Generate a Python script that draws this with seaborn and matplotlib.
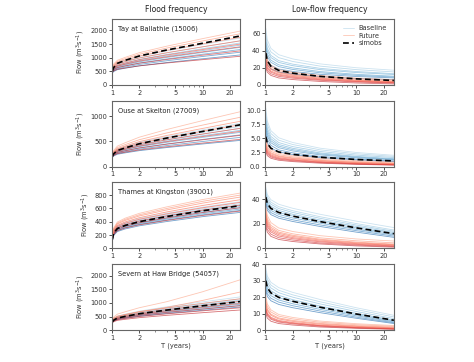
import matplotlib
matplotlib.use("Agg")
import matplotlib.pyplot as plt
import matplotlib.ticker as mticker
import seaborn as sns

# Return periods (years) at which each frequency curve is read
return_period = [1.01, 1.05, 1.15, 1.4, 2, 4, 10, 26]

# ---- Tay at Ballathie (15006) ----
tay_flood_base = [
    [430, 490, 557, 611, 698, 819, 959, 1100],
    [450, 518, 593, 653, 750, 885, 1043, 1200],
    [470, 545, 628, 694, 802, 951, 1126, 1300],
    [490, 570, 659, 730, 846, 1006, 1193, 1380],
    [510, 596, 691, 767, 890, 1061, 1261, 1460],
    [530, 621, 722, 803, 934, 1116, 1328, 1540],
    [560, 655, 761, 846, 984, 1175, 1397, 1620],
    [590, 692, 805, 895, 1042, 1245, 1483, 1720],
]
tay_flood_future = [
    [460, 513, 572, 619, 696, 802, 926, 1050],
    [490, 558, 634, 695, 794, 931, 1090, 1250],
    [520, 599, 687, 758, 872, 1030, 1215, 1400],
    [540, 626, 722, 799, 924, 1097, 1298, 1500],
    [570, 665, 770, 854, 990, 1179, 1400, 1620],
    [600, 704, 819, 911, 1060, 1267, 1509, 1750],
    [620, 733, 859, 960, 1124, 1351, 1615, 1880],
    [650, 770, 903, 1009, 1182, 1421, 1701, 1980],
]
tay_flood_simobs = [500, 640, 790, 900, 1060, 1280, 1530, 1800]

tay_low_base = [
    [30, 23.3, 18.5, 14.9, 12.5, 9.6, 7.4, 6],
    [36, 28.2, 22.6, 18.4, 15.6, 12.2, 9.7, 8],
    [42, 32.8, 26.2, 21.2, 17.9, 14.0, 11.0, 9],
    [46, 35.9, 28.7, 23.3, 19.7, 15.4, 12.2, 10],
    [50, 39.4, 31.8, 26.1, 22.3, 17.7, 14.3, 12],
    [54, 42.5, 34.3, 28.2, 24.1, 19.2, 15.5, 13],
    [60, 47.4, 38.4, 31.7, 27.2, 21.8, 17.7, 15],
    [66, 52.3, 42.5, 35.1, 30.2, 24.4, 19.9, 17],
]
tay_low_future = [
    [20, 14.7, 10.9, 8.0, 6.1, 3.9, 2.1, 1],
    [23, 17.1, 12.9, 9.8, 7.7, 5.2, 3.3, 2],
    [26, 19.4, 14.7, 11.2, 8.8, 6.0, 3.9, 2.5],
    [28, 21.0, 16.0, 12.3, 9.8, 6.8, 4.5, 3],
    [31, 23.3, 17.8, 13.7, 10.9, 7.6, 5.2, 3.5],
    [33, 24.9, 19.1, 14.7, 11.8, 8.4, 5.7, 4],
    [36, 27.3, 21.1, 16.5, 13.4, 9.7, 6.9, 5],
    [38, 29.0, 22.6, 17.8, 14.6, 10.8, 7.9, 6],
]
tay_low_simobs = [37, 28.0, 21.6, 16.8, 13.6, 9.8, 6.9, 5]

# ---- Ouse at Skelton (27009) ----
ouse_flood_base = [
    [180, 211, 245, 272, 316, 377, 449, 520],
    [190, 225, 264, 295, 346, 416, 498, 580],
    [200, 239, 282, 316, 372, 449, 540, 630],
    [205, 248, 295, 333, 395, 481, 580, 680],
    [210, 256, 307, 348, 414, 506, 613, 720],
    [215, 264, 319, 362, 433, 531, 646, 760],
    [220, 272, 330, 377, 452, 556, 678, 800],
    [230, 287, 350, 400, 482, 595, 728, 860],
]
ouse_flood_future = [
    [190, 222, 257, 285, 330, 393, 467, 540],
    [200, 238, 280, 313, 368, 444, 532, 620],
    [210, 254, 303, 342, 406, 494, 597, 700],
    [215, 264, 319, 362, 433, 531, 646, 760],
    [220, 275, 336, 385, 464, 574, 702, 830],
    [225, 286, 353, 407, 495, 617, 758, 900],
    [235, 302, 377, 436, 533, 667, 824, 980],
    [245, 321, 406, 473, 583, 735, 913, 1090],
]
ouse_flood_simobs = [200, 257, 320, 370, 452, 565, 698, 830]

ouse_low_base = [
    [5.5, 4.21, 3.29, 2.60, 2.14, 1.59, 1.18, 0.9],
    [6.3, 4.82, 3.76, 2.96, 2.43, 1.80, 1.32, 1.0],
    [7.0, 5.38, 4.22, 3.35, 2.77, 2.07, 1.55, 1.2],
    [7.6, 5.84, 4.58, 3.63, 3.00, 2.25, 1.68, 1.3],
    [8.2, 6.30, 4.94, 3.92, 3.24, 2.42, 1.81, 1.4],
    [8.8, 6.78, 5.34, 4.26, 3.54, 2.68, 2.03, 1.6],
    [9.6, 7.42, 5.86, 4.69, 3.91, 2.97, 2.27, 1.8],
    [10.4, 8.05, 6.37, 5.11, 4.27, 3.26, 2.50, 2.0],
]
ouse_low_future = [
    [2.6, 1.94, 1.47, 1.12, 0.88, 0.60, 0.39, 0.25],
    [3.0, 2.24, 1.70, 1.30, 1.03, 0.71, 0.46, 0.30],
    [3.3, 2.47, 1.88, 1.44, 1.15, 0.79, 0.53, 0.35],
    [3.6, 2.70, 2.06, 1.58, 1.26, 0.88, 0.59, 0.40],
    [3.9, 2.95, 2.27, 1.76, 1.42, 1.01, 0.70, 0.50],
    [4.2, 3.18, 2.45, 1.90, 1.54, 1.10, 0.77, 0.55],
    [4.6, 3.49, 2.70, 2.11, 1.72, 1.24, 0.89, 0.65],
    [5.0, 3.82, 2.98, 2.35, 1.93, 1.43, 1.05, 0.80],
]
ouse_low_simobs = [5.3, 4.10, 3.24, 2.59, 2.16, 1.65, 1.26, 1.0]

# ---- Thames at Kingston (39001) ----
thames_flood_base = [
    [110, 196, 252, 291, 338, 402, 476, 540],
    [120, 210, 269, 309, 359, 426, 503, 570],
    [125, 218, 278, 320, 371, 441, 520, 590],
    [130, 226, 288, 332, 384, 456, 538, 610],
    [140, 238, 302, 346, 400, 473, 557, 630],
    [145, 246, 312, 357, 413, 488, 574, 650],
    [150, 254, 322, 368, 426, 504, 592, 670],
    [160, 268, 338, 387, 446, 527, 619, 700],
]
thames_flood_future = [
    [120, 208, 265, 305, 353, 419, 494, 560],
    [130, 226, 288, 332, 384, 456, 538, 610],
    [140, 242, 308, 354, 410, 487, 574, 650],
    [150, 258, 328, 377, 436, 517, 609, 690],
    [155, 270, 345, 397, 460, 546, 644, 730],
    [165, 286, 365, 419, 486, 576, 679, 770],
    [170, 296, 378, 435, 504, 598, 706, 800],
    [180, 310, 395, 453, 525, 622, 733, 830],
]
thames_flood_simobs = [130, 232, 298, 344, 400, 477, 564, 640]

thames_low_base = [
    [36, 31.1, 27.6, 24.7, 22.0, 17.9, 13.3, 9],
    [38, 33.0, 29.3, 26.2, 23.4, 19.2, 14.5, 10],
    [40, 34.8, 31.0, 27.8, 24.9, 20.6, 15.6, 11],
    [42, 36.6, 32.7, 29.4, 26.4, 21.9, 16.8, 12],
    [44, 38.4, 34.4, 31.0, 27.9, 23.2, 18.0, 13],
    [46, 40.2, 36.1, 32.6, 29.4, 24.6, 19.1, 14],
    [48, 42.1, 37.8, 34.1, 30.8, 25.9, 20.3, 15],
    [50, 44.1, 39.8, 36.1, 32.8, 27.9, 22.3, 17],
]
thames_low_future = [
    [18, 13.2, 9.8, 7.3, 5.6, 3.6, 2.0, 1],
    [21, 15.5, 11.6, 8.7, 6.8, 4.4, 2.7, 1.5],
    [24, 17.8, 13.4, 10.1, 7.9, 5.3, 3.3, 2],
    [26, 19.4, 14.7, 11.2, 8.8, 6.0, 3.9, 2.5],
    [28, 21.0, 16.0, 12.3, 9.8, 6.8, 4.5, 3],
    [30, 22.6, 17.3, 13.3, 10.7, 7.5, 5.1, 3.5],
    [32, 24.3, 18.8, 14.7, 11.9, 8.6, 6.2, 4.5],
    [35, 26.9, 21.1, 16.7, 13.8, 10.4, 7.7, 6],
]
thames_low_simobs = [42, 36.6, 32.7, 29.4, 26.4, 21.9, 16.8, 12]

# ---- Severn at Haw Bridge (54057) ----
severn_flood_base = [
    [280, 331, 388, 434, 508, 611, 730, 850],
    [290, 345, 406, 455, 534, 644, 772, 900],
    [300, 359, 424, 476, 560, 677, 814, 950],
    [310, 372, 441, 496, 586, 710, 855, 1000],
    [320, 386, 459, 517, 612, 743, 897, 1050],
    [330, 399, 476, 538, 638, 777, 938, 1100],
    [340, 413, 494, 559, 664, 810, 980, 1150],
    [350, 428, 515, 585, 698, 855, 1037, 1220],
]
severn_flood_future = [
    [270, 312, 359, 397, 458, 543, 641, 740],
    [290, 338, 391, 433, 502, 597, 709, 820],
    [310, 363, 422, 469, 546, 652, 776, 900],
    [320, 379, 445, 498, 584, 703, 841, 980],
    [330, 396, 469, 527, 622, 753, 907, 1060],
    [350, 422, 502, 566, 670, 814, 982, 1150],
    [370, 442, 514, 576, 679, 834, 1091, 1400],
    [380, 483, 586, 674, 821, 1042, 1409, 1850],
]
severn_flood_simobs = [300, 368, 443, 503, 600, 735, 893, 1050]

severn_low_base = [
    [24, 20.4, 17.8, 15.6, 13.6, 10.6, 7.2, 4],
    [26, 22.1, 19.3, 17.0, 14.8, 11.6, 7.9, 4.5],
    [28, 23.9, 20.9, 18.3, 16.0, 12.6, 8.7, 5],
    [30, 25.6, 22.4, 19.7, 17.3, 13.6, 9.4, 5.5],
    [32, 27.3, 23.9, 21.1, 18.5, 14.6, 10.2, 6],
    [34, 29.1, 25.6, 22.7, 20.0, 15.9, 11.3, 7],
    [36, 31.0, 27.3, 24.2, 21.4, 17.2, 12.5, 8],
    [38, 32.8, 29.0, 25.8, 22.9, 18.6, 13.6, 9],
]
severn_low_future = [
    [10, 7.3, 5.4, 4.0, 3.1, 1.9, 1.1, 0.5],
    [12, 8.8, 6.6, 4.9, 3.8, 2.4, 1.4, 0.7],
    [13, 9.6, 7.2, 5.4, 4.2, 2.7, 1.6, 0.9],
    [14, 10.4, 7.8, 5.9, 4.6, 3.0, 1.9, 1.1],
    [16, 11.9, 9.0, 6.8, 5.3, 3.6, 2.3, 1.4],
    [17, 12.7, 9.7, 7.4, 5.9, 4.1, 2.7, 1.8],
    [19, 14.3, 11.0, 8.5, 6.8, 4.8, 3.3, 2.3],
    [21, 15.9, 12.3, 9.5, 7.7, 5.5, 3.9, 2.8],
]
severn_low_simobs = [30, 25.7, 22.6, 19.9, 17.5, 13.9, 9.8, 6]

station_names = ["Tay at Ballathie (15006)", "Ouse at Skelton (27009)",
                 "Thames at Kingston (39001)", "Severn at Haw Bridge (54057)"]

flood_sets = [
    (tay_flood_base, tay_flood_future, tay_flood_simobs),
    (ouse_flood_base, ouse_flood_future, ouse_flood_simobs),
    (thames_flood_base, thames_flood_future, thames_flood_simobs),
    (severn_flood_base, severn_flood_future, severn_flood_simobs),
]
low_sets = [
    (tay_low_base, tay_low_future, tay_low_simobs),
    (ouse_low_base, ouse_low_future, ouse_low_simobs),
    (thames_low_base, thames_low_future, thames_low_simobs),
    (severn_low_base, severn_low_future, severn_low_simobs),
]

flood_ylim = [2430, 1310, 990, 2420]
flood_yticks = [[0, 500, 1000, 1500, 2000], [0, 500, 1000],
                [0, 200, 400, 600, 800], [0, 500, 1000, 1500, 2000]]
low_ylim = [77, 11.7, 54, 40]
low_yticks = [[0, 20, 40, 60], [0.0, 2.5, 5.0, 7.5, 10.0],
              [0, 20, 40], [0, 10, 20, 30, 40]]

sns.set_style("ticks")
plt.rcParams['font.family'] = ['DejaVu Sans']

fig, axes = plt.subplots(4, 2, figsize=(4.74, 3.62), dpi=100)
fig.subplots_adjust(left=0.236, right=0.831, top=0.948, bottom=0.088,
                    wspace=0.195, hspace=0.24)

# lightest first; darkest shades go to the low members
blues = sns.color_palette("Blues", 14)[4:12]
reds = sns.color_palette("Reds", 14)[4:12]

FS = 4.8
TXT = "#333333"


def draw_panel(ax, base, future, simobs, legend=False):
    n = len(base)
    for i, vals in enumerate(base):
        sns.lineplot(x=return_period, y=vals, ax=ax, color=blues[n - 1 - i],
                     lw=0.6, alpha=0.6,
                     label="Baseline" if (legend and i == n - 1) else None)
    for i, vals in enumerate(future):
        sns.lineplot(x=return_period, y=vals, ax=ax, color=reds[n - 1 - i],
                     lw=0.6, alpha=0.6,
                     label="Future" if (legend and i == n - 1) else None)
    sns.lineplot(x=return_period, y=simobs, ax=ax, color="black", lw=1.2,
                 linestyle=(0, (3.5, 2)),
                 label="simobs" if legend else None)


for row in range(4):
    for col in range(2):
        ax = axes[row, col]
        if col == 0:
            base, future, simobs = flood_sets[row]
            draw_panel(ax, base, future, simobs)
            ax.set_ylim(0, flood_ylim[row])
            ax.set_yticks(flood_yticks[row])
            ax.set_ylabel("Flow (m$^3$s$^{-1}$)", fontsize=FS, color=TXT,
                          labelpad=2)
            ax.text(0.05, 0.9, station_names[row], transform=ax.transAxes,
                    fontsize=FS, va="top", ha="left", color="#222222")
        else:
            base, future, simobs = low_sets[row]
            draw_panel(ax, base, future, simobs, legend=(row == 0))
            ax.set_ylim(0, low_ylim[row])
            ax.set_yticks(low_yticks[row])
            if row == 1:
                ax.yaxis.set_major_formatter(mticker.FormatStrFormatter("%.1f"))
        ax.set_xscale("log")
        ax.set_xlim(1, 26)
        ax.set_xticks([1, 2, 5, 10, 20])
        ax.xaxis.set_major_formatter(mticker.ScalarFormatter())
        ax.xaxis.set_minor_formatter(mticker.NullFormatter())
        ax.tick_params(axis="both", which="major", labelsize=FS, length=2.2,
                       width=0.6, pad=1.2, colors=TXT)
        ax.tick_params(axis="x", which="minor", length=1.3, width=0.4,
                       colors=TXT)
        for sp in ax.spines.values():
            sp.set_color("#666666")
            sp.set_linewidth(0.8)
        if row == 3:
            ax.set_xlabel("T (years)", fontsize=FS, labelpad=1, color=TXT)
        else:
            ax.set_xlabel("")

axes[0, 0].set_title("Flood frequency", fontsize=5.6, pad=5, color="#222222")
axes[0, 1].set_title("Low-flow frequency", fontsize=5.6, pad=5,
                     color="#222222")

leg = axes[0, 1].legend(loc="upper right", frameon=False, fontsize=FS,
                        handlelength=1.6, labelspacing=0.2,
                        handletextpad=0.8, borderaxespad=0.6)
for txt in leg.get_texts():
    txt.set_color(TXT)

fig.savefig("out.png", dpi=100)
